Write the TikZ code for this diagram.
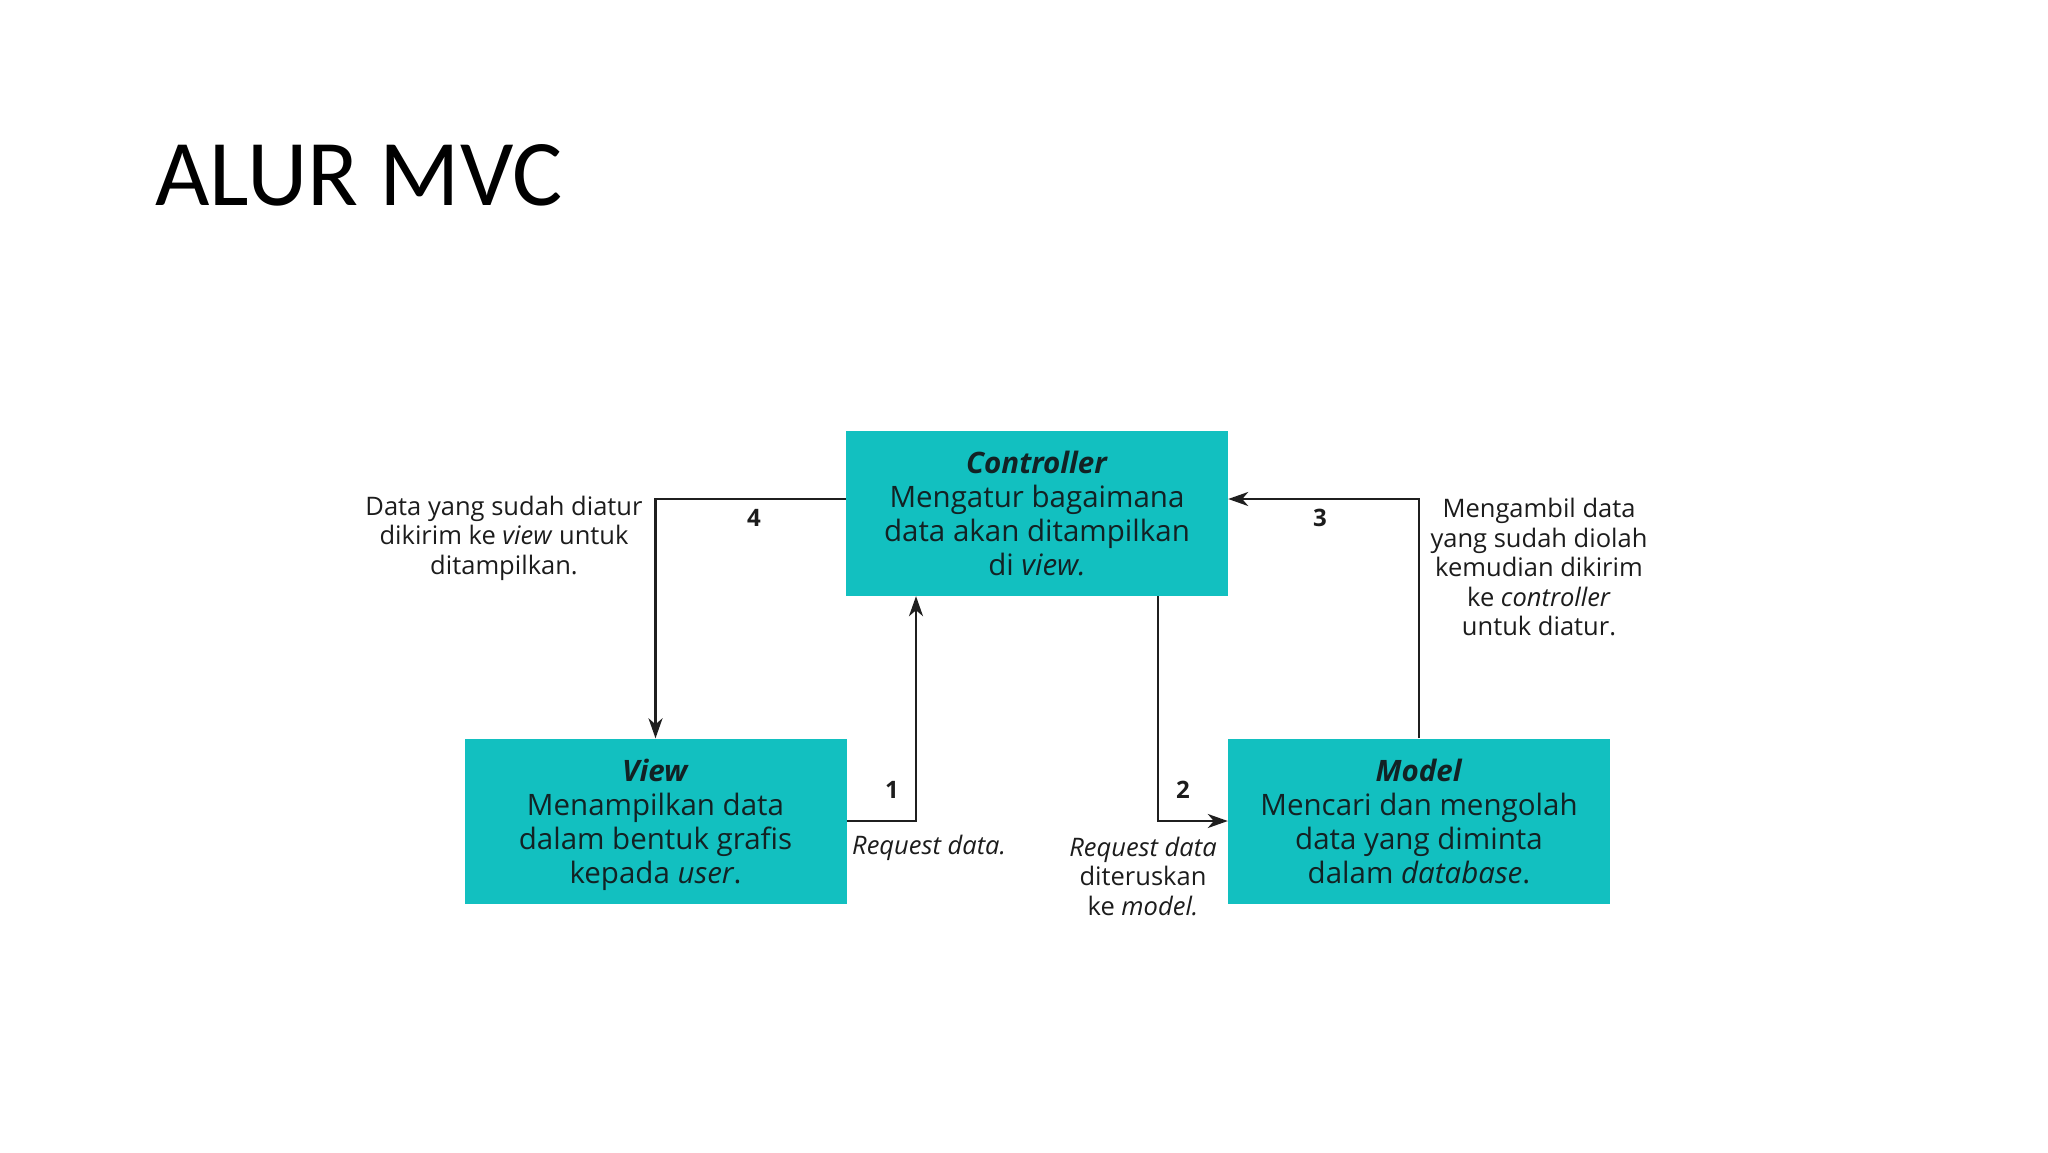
\documentclass[tikz,border=0pt]{standalone}
\usepackage{fontspec}
\setmainfont{Open Sans}
\newfontfamily\titlefont{Carlito}
\usetikzlibrary{arrows.meta}
\definecolor{teal1}{RGB}{18,192,192}
\definecolor{boxtext}{RGB}{18,34,36}
\definecolor{labtext}{RGB}{28,28,28}
\newcommand{\topfix}{\rule{0pt}{29.5pt}}
\begin{document}
\begin{tikzpicture}[x=1pt,y=-1pt,
  mvcbox/.style={draw=none,fill=teal1,minimum width=382pt,minimum height=165pt,inner sep=0pt,
    align=center,text=boxtext,font=\fontsize{29.5}{34}\selectfont},
  lab/.style={align=center,text=labtext,inner sep=0pt,font=\fontsize{25.5}{29.5}\selectfont},
  numlab/.style={text=labtext,inner sep=0pt,font=\fontsize{24}{28}\selectfont\bfseries},
  arr/.style={line width=2.5pt,draw=black!88,-{Stealth[length=20pt,width=14pt,inset=6pt]}}
]
\useasboundingbox (0,0) rectangle (2048,1152);
\fill[white] (0,0) rectangle (2048,1152);

\node[anchor=base west,inner sep=0pt,font=\titlefont\fontsize{94}{110}\selectfont] (title) at (155,205) {ALUR MVC};

\node[mvcbox] (ctrl) at (1037,513.5) {\topfix\textbf{\textit{Controller}}\\Mengatur bagaimana\\data akan ditampilkan\\di \textit{view.}\vphantom{p}};
\node[mvcbox] (view) at (655.5,821) {\topfix\textbf{\textit{View}}\\Menampilkan data\\dalam bentuk grafis\\kepada \textit{user}.};
\node[mvcbox] (model) at (1419,821) {\topfix\textbf{\textit{Model}}\\Mencari dan mengolah\\data yang diminta\\dalam \textit{database}.\vphantom{p}};

\draw[arr] ([yshift=14.5pt]ctrl.west) -| (view.north);
\draw[arr] (view.east) -| ([xshift=-121pt]ctrl.south);
\draw[arr] ([xshift=121pt]ctrl.south) |- (model.west);
\draw[arr] (model.north) |- ([yshift=14.5pt]ctrl.east);

\node[numlab] (n4) at (754,518) {4};
\node[numlab] (n3) at (1320,518) {3};
\node[numlab] (n1) at (892,790) {1};
\node[numlab] (n2) at (1183,790) {2};

\node[lab] (t4) at (504,538) {Data yang sudah diatur\\dikirim ke \textit{view} untuk\\ditampilkan.};
\node[lab] (t3) at (1539,567) {Mengambil data\\yang sudah diolah\\kemudian dikirim\\ke \textit{controller}\\untuk diatur.};
\node[lab,anchor=west] (t1) at (852,848) {\textit{Request data.}};
\node[lab] (t2) at (1143,876) {\textit{Request data}\\diteruskan\\ke \textit{model.}};
\end{tikzpicture}
\end{document}
